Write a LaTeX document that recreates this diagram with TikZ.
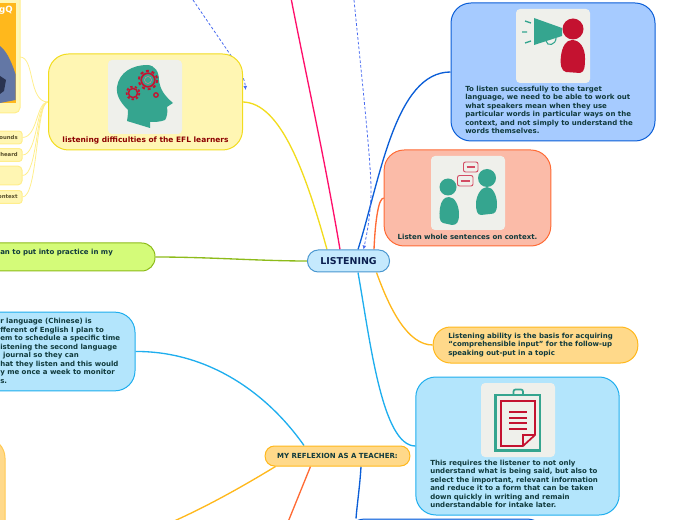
\documentclass[tikz,border=0pt]{standalone}
\usepackage{fontspec}
\setmainfont{DejaVu Sans}
\usetikzlibrary{calc,backgrounds,arrows.meta}
\definecolor{txt}{HTML}{103A3C}
\definecolor{teal}{HTML}{35A58F}
\definecolor{crim}{HTML}{C41230}
\definecolor{icobg}{HTML}{EFF0EB}
\definecolor{ylF}{HTML}{FFF6B3}\definecolor{ylB}{HTML}{F2DC1E}
\definecolor{paleF}{HTML}{FFF6B3}\definecolor{paleB}{HTML}{FFEE8C}
\definecolor{blF}{HTML}{A6CBFF}\definecolor{blB}{HTML}{0B5ED7}
\definecolor{saF}{HTML}{FBBBA8}\definecolor{saB}{HTML}{FF6B35}
\definecolor{orF}{HTML}{FFD98A}\definecolor{orB}{HTML}{FFB81C}
\definecolor{lbF}{HTML}{B3E5FC}\definecolor{lbB}{HTML}{1FAEEE}
\definecolor{grF}{HTML}{D4FB79}\definecolor{grB}{HTML}{8DBB1A}
\definecolor{ceF}{HTML}{C5E9FD}\definecolor{ceB}{HTML}{4A97D0}
\definecolor{pinkl}{HTML}{FF0F6B}
\definecolor{dash}{HTML}{4A6CF0}
\definecolor{navyt}{HTML}{0B1F4F}
\definecolor{photo}{HTML}{6377A5}
\definecolor{photod}{HTML}{2A3350}
\tikzset{
  x=0.75pt,y=-0.75pt,
  box/.style={draw,line width=0.75pt,inner sep=0pt,rounded corners=15pt,anchor=center},
  lab/.style={inner sep=0pt,font=\fontsize{5.25pt}{6.4pt}\selectfont\bfseries,text=txt,align=left},
  tiny/.style={inner sep=0pt,font=\fontsize{4pt}{5pt}\selectfont\bfseries,text=txt!70!orange},
  icon/.style={fill=icobg,rounded corners=3pt,draw=none,minimum width=55.5pt,minimum height=55.5pt,inner sep=0pt},
  link/.style={line width=1pt},
  thin link/.style={line width=0.6pt,draw=paleB},
  dashlink/.style={line width=0.6pt,draw=dash,dash pattern=on 2pt off 1.5pt},
}
\begin{document}
\begin{tikzpicture}
\useasboundingbox (0,0) rectangle (696,520);
\clip (0,0) rectangle (696,520);
% main nodes
\node[box,draw=ceB,fill=ceF,rounded corners=8pt,minimum width=61.5pt,minimum height=16.5pt,
  font=\fontsize{7.1pt}{8pt}\selectfont\bfseries,text=navyt] (c) at (348.5,261) {LISTENING};
\node[box,draw=ylB,fill=ylF,minimum width=145.5pt,minimum height=72pt] (main) at (145.5,102) {};
\node[box,draw=blB,fill=blF,minimum width=153pt,minimum height=103.5pt] (tr) at (553,72) {};
\node[box,draw=saB,fill=saF,minimum width=125pt,minimum height=72pt] (sal) at (467.5,198) {};
\node[box,draw=orB,fill=orF,rounded corners=13pt,minimum width=153.5pt,minimum height=27pt] (ora) at (535.5,345) {};
\node[box,draw=lbB,fill=lbF,minimum width=152.5pt,minimum height=103.5pt] (lbr) at (517.5,446) {};
\node[box,draw=orB,fill=orF,rounded corners=7pt,minimum width=108.5pt,minimum height=15pt,
  font=\fontsize{5.25pt}{6pt}\selectfont\bfseries,text=txt] (ref) at (337.5,456) {MY REFLEXION AS A TEACHER:};
\node[box,draw=grB,fill=grF,rounded corners=10pt,minimum width=150pt,minimum height=21pt] (gre) at (55,257) {};
\node[box,draw=lbB,fill=lbF,minimum width=180pt,minimum height=59pt] (lbl) at (15,351.5) {};
\node[box,draw=orB!50!orF,fill=orF,minimum width=60pt,minimum height=120pt] (orl) at (-35,518) {};
\node[box,draw=blB,fill=blF,minimum width=151.5pt,minimum height=60pt,anchor=north] (bot) at (446,518.5) {};
% small yellow nodes
\node[box,draw=paleB,fill=paleF,rounded corners=2pt,minimum width=30pt,minimum height=9.5pt] (s1) at (2,137.5) {};
\node[box,draw=paleB,fill=paleF,rounded corners=2pt,minimum width=30pt,minimum height=9.5pt] (s2) at (2,155) {};
\node[box,draw=paleB,fill=paleF,rounded corners=3pt,minimum width=30pt,minimum height=14pt] (s3) at (2,175.5) {};
\node[box,draw=paleB,fill=paleF,rounded corners=2pt,minimum width=30pt,minimum height=9.5pt] (s4) at (2,197) {};
\node[box,draw=paleB,fill=paleF,rounded corners=4pt,minimum width=45pt,minimum height=90pt] (imgn) at (-10,53) {};
% free ends of the dashed links
\coordinate (d1) at (193,0);
\coordinate (d1e) at (245.5,90);
\coordinate (d2) at (354,0);
% connectors
\begin{scope}[on background layer]
\draw[link,draw=ylB] (main.east) .. controls (280,103) and (305,170) .. ($(c.north)+(-21.5,0)$);
\draw[link,draw=pinkl] (291,-2) .. controls (305,70) and (325,160) .. ($(c.north)+(-8.5,0)$);
\draw[link,draw=blB] ($(c.north)+(9.5,0)$) .. controls (380,180) and (395,72) .. (tr.west);
\draw[link,draw=saB] ($(c.north)+(25.5,0)$) .. controls (375,225) and (378,198) .. (sal.west);
\draw[link,draw=orB] ($(c.south)+(28,0)$) .. controls (390,310) and (408,345) .. (ora.west);
\draw[link,draw=lbB] ($(c.south)+(9.5,0)$) .. controls (370,340) and (382,446) .. (lbr.west);
\draw[link,draw=grB] (gre.east) .. controls (210,257) and (260,261) .. (c.west);
\draw[link,draw=lbB] (lbl.east) .. controls (205,351) and (265,390) .. ($(ref.north)+(-33.5,0)$);
\draw[link,draw=orB] ($(ref.south)+(-62,0)$) .. controls (245,485) and (210,505) .. (172,522);
\draw[link,draw=saB] ($(ref.south)+(-27,0)$) -- (288,522);
\draw[link,draw=blB] ($(ref.south)+(23.5,0)$) .. controls (360,485) and (357,505) .. (bot.north -| 356,0);
\draw[thin link] (main.west) .. controls (28,102) and (35,57) .. (20,57);
\draw[thin link] (main.west) .. controls (36,102) and (38,137) .. (s1.east);
\draw[thin link] (main.west) .. controls (36,102) and (38,155) .. (s2.east);
\draw[thin link] (main.west) .. controls (36,102) and (38,176) .. (s3.east);
\draw[thin link] (main.west) .. controls (36,102) and (38,197) .. (s4.east);
\draw[dashlink,-{Latex[length=3pt,width=3pt]}] (d1) -- (236,63) .. controls (240,70) and (245,80) .. (d1e);
\draw[dashlink,-{Latex[length=3pt,width=3pt]}] (d2) .. controls (362,80) and (372,170) .. (371,195) .. controls (370,220) and (366,238) .. ($(c.north)+(15,0)$);
\end{scope}
% text
\node[lab,anchor=center,text=red!55!black,font=\fontsize{5.6pt}{6.4pt}\selectfont\bfseries] (t1) at (145.5,140) {listening difficulties of the EFL learners};
\node[lab,anchor=north west] (t2) at (465,85.5) {To listen successfully to the target\\language, we need to be able to work out\\what speakers mean when they use\\particular words in particular ways on the\\context, and not simply to understand the\\words themselves.};
\node[lab,anchor=center] (t3) at (467.5,236.5) {Listen whole sentences on context.};
\node[lab,anchor=west] (t4) at (448,345) {Listening ability is the basis for acquiring\\“comprehensible input” for the follow-up\\speaking out-put in a topic};
\node[lab,anchor=north west] (t5) at (430,459.5) {This requires the listener to not only\\understand what is being said, but also to\\select the important, relevant information\\and reduce it to a form that can be taken\\down quickly in writing and remain\\understandable for intake later.};
\node[lab,anchor=west] (t6) at (0,253) {an to put into practice in my};
\node[lab,anchor=north west] (t7) at (0,318) {r language (Chinese) is\\fferent of English I plan to\\em to schedule a specific time\\istening the second language\\\hspace*{2.2pt}journal so they can\\hat they listen and this would\\y me once a week to monitor\\s.};
\node[tiny,anchor=east] (t8) at (18,137.5) {ounds};
\node[tiny,anchor=east] (t9) at (18,155) {heard};
\node[tiny,anchor=east] (t10) at (18,197) {ontext};
% icon: image node
\fill[orB] (-5,3) rectangle (15.5,103);
\fill[photo] (-2,45) .. controls (5,48) and (11,60) .. (15.5,74) -- (15.5,100) -- (0,103) -- (-2,103) -- cycle;
\fill[photod] (0,76) -- (6,80) -- (4,91) -- (0,94) -- cycle;
\node[inner sep=0pt,anchor=east,text=white,font=\fontsize{6.5pt}{7pt}\selectfont\bfseries] (t11) at (13,10) {gQ};
% icon: head
\node[icon] (i1) at (145,97) {};
\fill[teal] (127,121) .. controls (128,115) and (128,112) .. (128,110) .. controls (120,102) and (116,95) .. (117,87) .. controls (119,72) and (133,65) .. (147,65) .. controls (155,65) and (159,72) .. (159,80) .. controls (160,90) and (165,96) .. (173,103) -- (167,107) .. controls (168,112) and (167,117) .. (165,120) .. controls (160,122) and (155,122) .. (150,122) -- (150,128) -- cycle;
\draw[crim,line width=1.3pt] (148,80) circle (6.8);
\draw[crim,line width=1.5pt,dash pattern=on 2.2pt off 2.2pt] (148,80) circle (9.2);
\draw[crim!50!icobg,line width=0.4pt] (148,80) circle (3.5);
\draw[crim,line width=1.1pt] (133,93) circle (4.6);
\draw[crim,line width=1.3pt,dash pattern=on 1.8pt off 1.6pt] (133,93) circle (6.4);
\draw[crim,line width=1pt] (156,95) circle (2.2);
% icon: megaphone
\node[icon] (i2) at (553,46) {};
\fill[teal] (534,18) -- (562,28) -- (562,36) -- (534,45) -- cycle;
\draw[teal,line width=0.8pt] (546,41) .. controls (547,47) and (556,45) .. (556,38);
\draw[teal,line width=1pt] (522,32) -- (527,32) (525,21) -- (531,23) (525,43) -- (531,41);
\fill[crim] (573,29) circle (10.5);
\fill[crim] (572,40) .. controls (580,40) and (585,48) .. (585,58) .. controls (585,66) and (585,72) .. (580,73) -- (566,72) .. controls (561,71) and (560,64) .. (561,56) .. controls (562,47) and (566,40) .. (572,40) -- cycle;
% icon: people
\node[icon] (i3) at (468,193) {};
\fill[teal] (448,187) circle (8.5);
\fill[teal] (449,197) .. controls (455,197) and (459,206) .. (459,214) .. controls (459,222) and (457,225) .. (452,225) -- (443,223) .. controls (439,222) and (439,215) .. (440,208) .. controls (441,201) and (444,197) .. (449,197) -- cycle;
\fill[teal] (487,178) circle (9);
\fill[teal] (487,187) .. controls (493,187) and (497,196) .. (497,204) .. controls (497,212) and (495,214) .. (490,214) -- (481,215) .. controls (477,215) and (476,210) .. (476,204) .. controls (476,196) and (481,187) .. (487,187) -- cycle;
\draw[crim!75!white,line width=0.7pt,rounded corners=1.5pt,fill=icobg] (463.5,162) rectangle (478,172);
\draw[crim!75!white,line width=0.7pt,rounded corners=1.5pt,fill=icobg] (457.5,175.5) rectangle (473,186);
\draw[crim!75!white,line width=0.8pt] (466.5,167) -- (475,167) (460.5,181) -- (470,181);
% icon: clipboard
\node[icon] (i4) at (518,420) {};
\draw[teal,line width=1.3pt,rounded corners=1.5pt] (513.5,394) -- (513.5,389.5) -- (523,389.5) -- (523,394);
\draw[teal,line width=2pt] (495.5,395) rectangle (540,450.5);
\draw[crim,line width=1.3pt,fill=icobg] (501,401) -- (535,401) -- (535,435) -- (523,446) -- (501,446) -- cycle;
\draw[crim,line width=1pt] (523,446) -- (523,435) -- (535,435);
\draw[crim,line width=0.9pt] (509,412) -- (527,412) (509,418) -- (527,418) (509,423) -- (527,423) (509,429) -- (527,429);
\end{tikzpicture}
\end{document}
